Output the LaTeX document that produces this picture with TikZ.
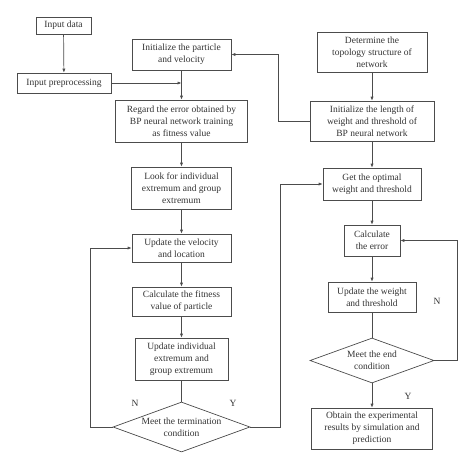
\documentclass[tikz,border=0pt]{standalone}
\usepackage{fontspec}
\setmainfont{Liberation Serif}
\usetikzlibrary{shapes.geometric,arrows.meta}
\begin{document}
\begin{tikzpicture}[x=1pt,y=-1pt,
  every node/.style={font=\fontsize{9.5}{12}\selectfont,text=black!80},
  box/.style={draw=black!70,line width=0.7pt,align=center,inner sep=1pt},
  dec/.style={draw=black!70,line width=0.7pt,diamond,inner sep=0pt},
  arr/.style={draw=black!70,line width=0.7pt,-{Latex[length=4pt,width=3.2pt]}},
  ln/.style={draw=black!70,line width=0.7pt}]

\useasboundingbox (0,0) rectangle (474,469);

\node[box,minimum width=55,minimum height=17] (data) at (63.5,25.5) {Input data};
\node[box,minimum width=94,minimum height=20] (prep) at (64,83) {Input preprocessing};
\node[box,minimum width=99,minimum height=31] (initp) at (181.5,54.5) {Initialize the particle\\and velocity};
\node[box,minimum width=132,minimum height=42] (regard) at (181.5,121) {Regard the error obtained by\\BP neural network training\\as fitness value};
\node[box,minimum width=100,minimum height=42] (look) at (181.5,188) {Look for individual\\extremum and group\\extremum};
\node[box,minimum width=99,minimum height=28] (upd) at (181.5,248) {Update the velocity\\and location};
\node[box,minimum width=99,minimum height=29] (calc) at (181.5,301.5) {Calculate the fitness\\value of particle};
\node[box,minimum width=93,minimum height=42] (updind) at (181.5,359) {Update individual\\extremum and\\group extremum};
\node[dec,minimum width=137,minimum height=50,label={[align=center]center:Meet the termination\\condition}] (term) at (181.5,427) {};

\node[box,minimum width=110,minimum height=40] (det) at (372,52) {Determine the\\topology structure of\\network};
\node[box,minimum width=124,minimum height=40] (initl) at (372,121) {Initialize the length of\\weight and threshold of\\BP neural network};
\node[box,minimum width=98,minimum height=32] (opt) at (372,184) {Get the optimal\\weight and threshold};
\node[box,minimum width=56,minimum height=31] (err) at (372,240.5) {Calculate\\the error};
\node[box,minimum width=88,minimum height=30] (updw) at (372,297) {Update the weight\\and threshold};
\node[dec,minimum width=124,minimum height=45,label={[align=center]center:Meet the end\\condition}] (endc) at (372,360.5) {};
\node[box,minimum width=121,minimum height=41] (res) at (372,428.5) {Obtain the experimental\\results by simulation and\\prediction};

\node (n1) at (135,403) {N};
\node (y1) at (233,403) {Y};
\node (n2) at (437,301) {N};
\node (y2) at (408,396) {Y};

\draw[arr] (data) -- (prep);
\draw[arr] (prep.east) -- (initp.south |- prep.east);
\draw[arr] (initp) -- (regard);
\draw[arr] (regard) -- (look);
\draw[arr] (look) -- (upd);
\draw[arr] (upd) -- (calc);
\draw[arr] (calc) -- (updind);
\draw[ln] (updind) -- (term);
\draw[arr] (term.west) -- ++(-22,0) |- (upd.west);
\draw[arr] (term.east) -- ++(30,0) |- (opt.west);

\draw[arr] (det) -- (initl);
\draw[arr] (initl.west) -- ++(-31,0) |- (initp.east);
\draw[arr] (initl) -- (opt);
\draw[arr] (opt) -- (err);
\draw[arr] (err) -- (updw);
\draw[ln] (updw) -- (endc);
\draw[arr] (endc.east) -- ++(23,0) |- (err.east);
\draw[arr] (endc) -- (res);

\end{tikzpicture}
\end{document}
